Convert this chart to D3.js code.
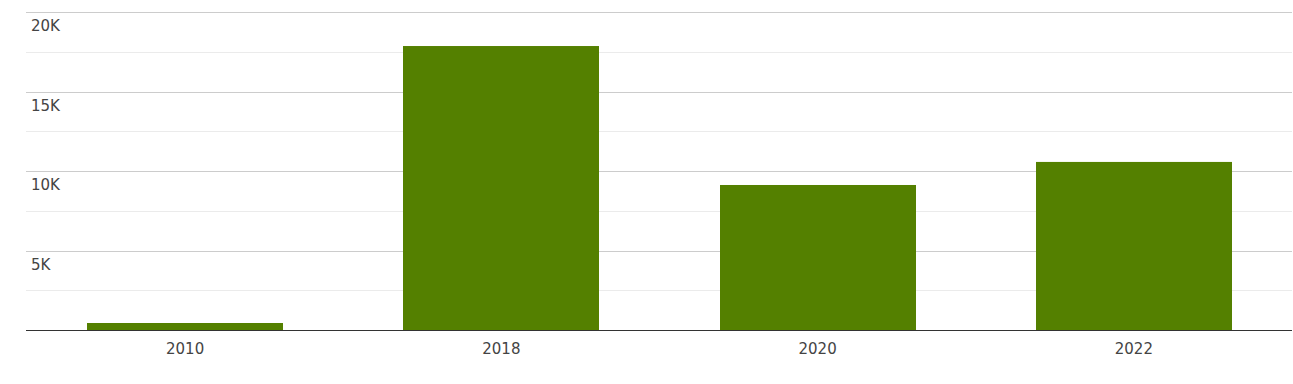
<!DOCTYPE html>
<html><head><meta charset="utf-8">
<script src="https://cdn.jsdelivr.net/npm/d3@7"></script>
<style>body{margin:0;background:#fff;font-family:"DejaVu Sans",sans-serif;}</style>
</head><body><svg id="c" width="1293" height="384"></svg>
<script>
const categories = ["2010", "2018", "2020", "2022"];
const values = [440, 17860, 9120, 10570];
const majorTicks = [5000, 10000, 15000, 20000];
const minorTicks = [2500, 7500, 12500, 17500];
const tickLabels = ["5K", "10K", "15K", "20K"];

(function () {
const svg = d3.select("#c");
const mLeft = 27, mRight = 1292, mTop = 12, mBottom = 330;
const x = d3.scaleBand().domain(categories).range([mLeft, mRight]).paddingInner(0.38).paddingOuter(0.19);
const y = d3.scaleLinear().domain([0, 20000]).range([mBottom, mTop]);
const gl = 26, gr = 1292;

svg.append("g").selectAll("line").data(minorTicks).join("line")
  .attr("x1", gl).attr("x2", gr)
  .attr("y1", d => Math.round(y(d)) + 0.5).attr("y2", d => Math.round(y(d)) + 0.5)
  .attr("stroke", "#ebebeb").attr("stroke-width", 1);
svg.append("g").selectAll("line").data(majorTicks).join("line")
  .attr("x1", gl).attr("x2", gr)
  .attr("y1", d => Math.round(y(d)) + 0.5).attr("y2", d => Math.round(y(d)) + 0.5)
  .attr("stroke", "#cccccc").attr("stroke-width", 1);

svg.append("g").selectAll("rect").data(values).join("rect")
  .attr("x", (d, i) => Math.round(x(categories[i])))
  .attr("width", Math.round(x.bandwidth()))
  .attr("y", d => y(d))
  .attr("height", d => y(0) - y(d))
  .attr("fill", "#548000");

svg.append("line").attr("x1", gl).attr("x2", gr)
  .attr("y1", mBottom + 0.5).attr("y2", mBottom + 0.5)
  .attr("stroke", "#333").attr("stroke-width", 1);

svg.append("g").selectAll("text").data(majorTicks).join("text")
  .attr("x", gl + 5).attr("y", d => y(d) + 19)
  .attr("font-size", 15).attr("fill", "#444")
  .text((d, i) => tickLabels[i]);

svg.append("g").selectAll("text").data(categories).join("text")
  .attr("x", d => x(d) + x.bandwidth() / 2).attr("y", mBottom + 23.5)
  .attr("text-anchor", "middle")
  .attr("font-size", 15).attr("fill", "#444")
  .text(d => d);
})();
</script></body></html>
